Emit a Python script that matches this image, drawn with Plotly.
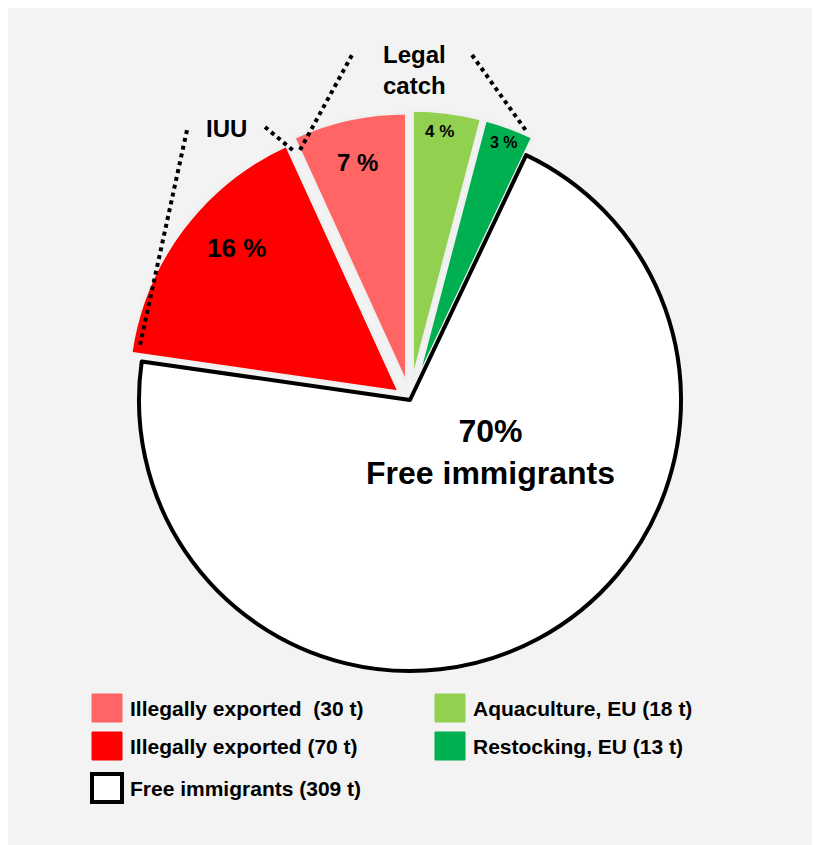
import plotly.graph_objects as go

W, H = 820, 845
categories = ["Aquaculture, EU", "Restocking, EU", "Free immigrants",
              "Illegally exported (70 t)", "Illegally exported (30 t)"]
tonnes = [18, 13, 309, 70, 30]
colors = ["#92d050", "#00b050", "#ffffff", "#ff0000", "#ff6565"]
pulls = [0.07, 0.07, 0.0, 0.05, 0.06]
OFF = 8

def px(x, y):
    return (x - OFF) / W, 1 - (y - OFF) / H

def pa(x, y):
    return x / W, 1 - y / H

fig = go.Figure(go.Pie(
    labels=categories, values=tonnes, sort=False, direction="clockwise",
    rotation=0, pull=pulls, textinfo="none", hoverinfo="label+value",
    marker=dict(colors=colors, line=dict(color=["#f0f0f0"] * 2 + ["#000000"] + ["#f0f0f0"] * 2,
                                         width=[3, 3, 4, 3, 3])),
    domain=dict(x=[(120 - OFF) / W, (700 - OFF) / W], y=[1 - (690 - OFF) / H, 1 - (110 - OFF) / H]),
    showlegend=False,
))

font = dict(family="Liberation Sans, Arial", color="black")
ann = [
    (349, 139, "<b>7 %</b>", 24), (197, 223, "<b>16 %</b>", 26),
    (431, 112, "<b>4 %</b>", 17), (496, 124, "<b>3 %</b>", 16),
    (482, 444, "<b>70%<br>Free immigrants</b>", 32),
    (196, 105, "<b>IUU</b>", 24), (406, 31, "<b>Legal<br>catch</b>", 24),
]
annotations = [dict(x=pa(x, y)[0], y=pa(x, y)[1], xref="paper", yref="paper",
                    text=t, showarrow=False, font=dict(size=s, **font)) for x, y, t, s in ann]

shapes = []
for (x0, y0, x1, y1) in [(140, 345, 187, 130), (265, 127, 295, 152),
                         (300, 150, 352, 55), (472, 55, 527, 132)]:
    a, b = px(x0, y0)
    c, d = px(x1, y1)
    shapes.append(dict(type="line", xref="paper", yref="paper", x0=a, y0=b, x1=c, y1=d,
                       line=dict(color="black", width=4, dash="dot")))

legend_items = [
    (92, 708, "#ff6565", "#ff6565", "Illegally exported  (30 t)"),
    (92, 746, "#ff0000", "#ff0000", "Illegally exported (70 t)"),
    (92, 788, "#ffffff", "#000000", "Free immigrants (309 t)"),
    (435, 708, "#92d050", "#92d050", "Aquaculture, EU (18 t)"),
    (435, 746, "#00b050", "#00b050", "Restocking, EU (13 t)"),
]
for x, y, fc, lc, t in legend_items:
    a, b = px(x, y - 14)
    c, d = px(x + 30, y + 14)
    shapes.append(dict(type="rect", xref="paper", yref="paper", x0=a, y0=d, x1=c, y1=b,
                       fillcolor=fc, line=dict(color=lc, width=4 if lc == "#000000" else 1)))
    tx, ty = pa(x + 28, y + 6)
    annotations.append(dict(x=tx, y=ty, xref="paper", yref="paper", xanchor="left",
                            text="<b>" + t + "</b>", showarrow=False, font=dict(size=21, **font)))

fig.update_layout(width=W, height=H, margin=dict(l=0, r=0, t=0, b=0),
                  paper_bgcolor="#f3f3f3", plot_bgcolor="#f3f3f3",
                  annotations=annotations, shapes=shapes)
fig.write_html("out.html")
